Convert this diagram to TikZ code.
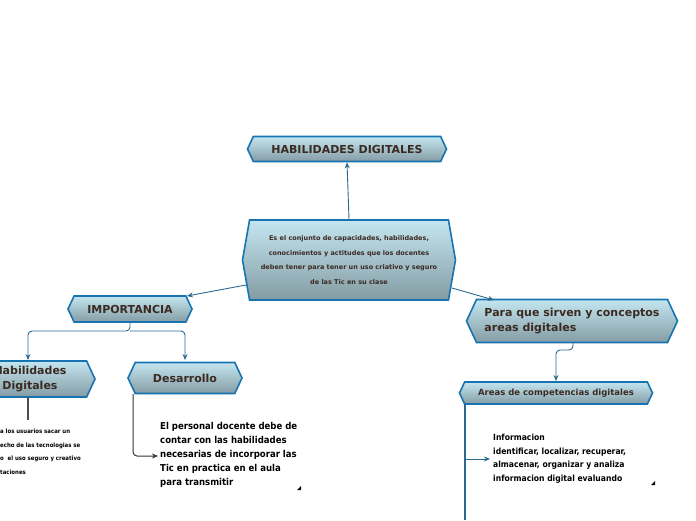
\documentclass[tikz,border=0pt]{standalone}
\usepackage{fontspec}
\setmainfont{DejaVu Sans}
\newfontfamily\cond{DejaVu Sans Condensed}
\usetikzlibrary{shapes.symbols,arrows.meta}
\definecolor{bd}{HTML}{1874B0}
\definecolor{ln}{HTML}{2A6A90}
\definecolor{tx}{HTML}{3A2A22}
\definecolor{tp}{HTML}{C4E6F0}
\definecolor{bt}{HTML}{849CA4}
\tikzset{
 hexa/.style={signal, signal to=east and west, signal pointer angle=130, draw=bd, line width=1.6pt,
   top color=tp, bottom color=bt,
   text=tx, font=\bfseries, inner xsep=8pt, inner ysep=3pt, align=left},
 conn/.style={draw=ln, line width=0.9pt, -{Stealth[length=6pt,width=5pt]}, rounded corners=4pt},
 body/.style={font=\cond\bfseries, text=black, align=left, anchor=north west, inner sep=0pt}
}
\begin{document}
\begin{tikzpicture}[x=1pt,y=-1pt]
\useasboundingbox (0,0) rectangle (696,520);
\node[hexa, minimum width=199pt, minimum height=25pt, font=\bfseries\fontsize{11}{13}\selectfont] (hd) at (347,149) {HABILIDADES DIGITALES};
\node[hexa, minimum width=213pt, minimum height=80pt, signal pointer angle=160, align=center, font=\bfseries\fontsize{6.5}{14.5}\selectfont] (c) at (349,260) {Es el conjunto de capacidades, habilidades,\\conocimientos y actitudes que los docentes\\deben tener para tener un uso criativo y seguro\\de las Tic en su clase};
\node[hexa, minimum width=124pt, minimum height=26pt, font=\bfseries\fontsize{11}{13}\selectfont] (imp) at (130,309) {IMPORTANCIA};
\node[hexa, minimum width=201pt, minimum height=43pt, font=\bfseries\fontsize{11}{15}\selectfont] (pq) at (572,321) {Para que sirven y conceptos\\areas digitales};
\node[hexa, minimum width=130pt, minimum height=36pt, align=center, font=\bfseries\fontsize{11}{15}\selectfont] (hab) at (30,379) {Habilidades\\Digitales};
\node[hexa, minimum width=114pt, minimum height=31pt, font=\bfseries\fontsize{11}{13}\selectfont] (des) at (185,378) {Desarrollo};
\node[hexa, minimum width=193pt, minimum height=22pt, font=\bfseries\fontsize{8.5}{10}\selectfont] (ar) at (556,393) {Areas de competencias digitales};
\node[body, font=\cond\bfseries\fontsize{9.5}{14}\selectfont] (dt) at (160,422) {El personal docente debe de\\contar con las habilidades\\necesarias de incorporar las\\Tic en practica en el aula\\para transmitir};
\node[body, font=\cond\bfseries\fontsize{6}{13.5}\selectfont] (ht) at (0,429) {a los usuarios sacar un\\echo de las tecnologias se\\o\ \ el uso seguro y creativo\\taciones};
\node[body, font=\cond\bfseries\fontsize{8.5}{13.5}\selectfont] (it) at (493,434) {Informacion\\identificar, localizar, recuperar,\\almacenar, organizar y analiza\\informacion digital evaluando};
\fill (301,486) -- (301,490) -- (297,490) -- cycle;
\fill (655,481) -- (655,485) -- (651,485) -- cycle;
\draw[conn] (c.north) -- (hd.south);
\draw[conn] (246,285) -- (187,296);
\draw[conn] (452,288) -- (494,300);
\coordinate (j1) at (130,331);
\draw[conn] (imp.south) -- (j1) -| (28,360);
\draw[conn] (j1) -| (185,360);
\draw[gray!60!black, line width=2pt] (28,397) -- (28,420);
\draw[draw=gray!40!black, line width=1pt, -{Stealth[length=6pt,width=5pt]}, rounded corners=4pt] (133,394) -- (133,456) -- (158,456);
\draw[conn] (573,343) -- (573,350) -| (556,381);
\draw[ln, line width=1.2pt] (465,404) -- (465,520);
\draw[conn] (465,459) -- (490,459);
\end{tikzpicture}
\end{document}
